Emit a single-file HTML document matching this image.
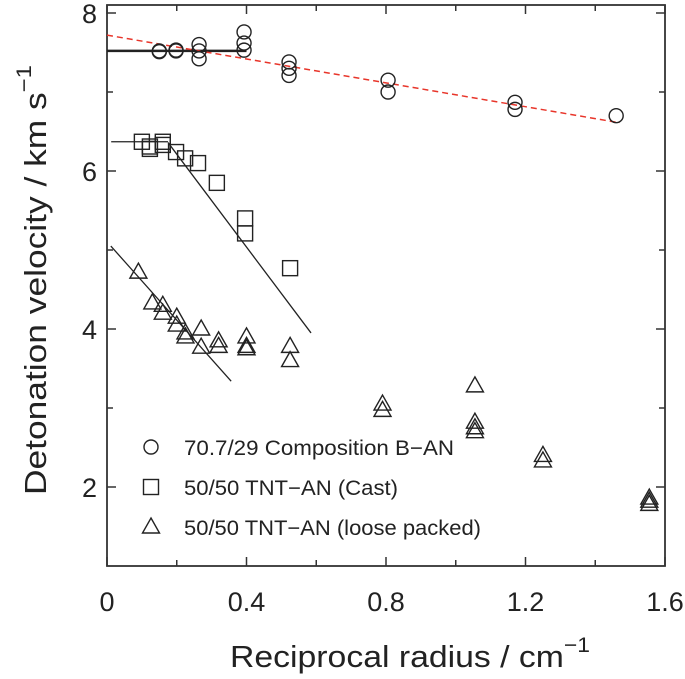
<!DOCTYPE html>
<html><head><meta charset="utf-8"><style>
body{margin:0;background:#fff}
svg text{font-family:"Liberation Sans",sans-serif;fill:#222}
</style></head><body>
<svg width="685" height="674" xmlns="http://www.w3.org/2000/svg">
<g id="marks"></g>
</svg>
<script>
const compBX=[0.15,0.15,0.198,0.198,0.264,0.264,0.264,0.393,0.393,0.393,0.522,0.522,0.522,0.806,0.806,1.17,1.17,1.46];
const compBV=[7.52,7.51,7.53,7.52,7.6,7.52,7.42,7.76,7.62,7.53,7.38,7.3,7.21,7.15,7.0,6.87,6.78,6.7];
const castX=[0.10,0.123,0.123,0.16,0.16,0.198,0.224,0.261,0.315,0.396,0.396,0.525];
const castV=[6.37,6.31,6.28,6.37,6.33,6.24,6.16,6.1,5.85,5.40,5.21,4.77];
const looseX=[0.09,0.13,0.16,0.16,0.2,0.2,0.225,0.225,0.27,0.27,0.32,0.32,0.4,0.4,0.4,0.525,0.525,0.79,0.79,1.055,1.055,1.055,1.055,1.25,1.25,1.555,1.555,1.555];
const looseV=[4.72,4.33,4.30,4.2,4.15,4.05,3.95,3.9,4.0,3.77,3.85,3.78,3.9,3.78,3.75,3.78,3.6,3.05,2.97,3.28,2.82,2.75,2.7,2.4,2.33,1.86,1.82,1.78];
const xTicks=[0,0.4,0.8,1.2,1.6];
const xTickLabels=["0","0.4","0.8","1.2","1.6"];
const yTicks=[2,4,6,8];
const yTickLabels=["2","4","6","8"];
const fitLines=[
 {name:"compb-plateau-line",x:[0,0.4],v:[7.52,7.52],w:2.5,c:"#222",d:""},
 {name:"compb-fit-dashed",x:[0,1.47],v:[7.72,6.61],w:1.5,c:"#e8352a",d:"6,4"},
 {name:"cast-plateau-line",x:[0.012,0.175],v:[6.37,6.37],w:1.3,c:"#222",d:""},
 {name:"cast-slope-line",x:[0.175,0.585],v:[6.36,3.95],w:1.3,c:"#222",d:""},
 {name:"loose-fit-line",x:[0.011,0.356],v:[5.05,3.34],w:1.3,c:"#222",d:""}
];
const L=107,R=665,T=5,B=566;
const sx=r=>L+r*(R-L)/1.6;
const sy=v=>13+(8-v)*79;
const NS="http://www.w3.org/2000/svg";
const svg=document.querySelector("svg");
function mk(tag,attrs,parent){const e=document.createElementNS(NS,tag);for(const k in attrs)e.setAttribute(k,attrs[k]);(parent||svg).appendChild(e);return e;}
let f=mk("rect",{x:L,y:T,width:R-L,height:B-T,fill:"none",stroke:"#333","stroke-width":1.8});


xTicks.forEach((t,i)=>{
 const x=sx(t);
 let tk=mk("path",{d:`M${x},${B}v-9M${x},${T}v9`,stroke:"#333","stroke-width":1.5});
 
 
 if(i<xTicks.length-1){const xm=sx(t+0.2);let m=mk("path",{d:`M${xm},${B}v-6M${xm},${T}v6`,stroke:"#333","stroke-width":1.5});
 
 }
 let lb=mk("text",{x:x,y:611,"font-size":27,"text-anchor":"middle"});lb.textContent=xTickLabels[i];
 
 
});
for(let v=1.5;v<=8;v+=0.5){
 const y=sy(v);const major=Math.abs(v-Math.round(v/2)*2)<1e-6;const len=major?9:(Number.isInteger(v)?6:0);
 if(!len)continue;
 let tk=mk("path",{d:`M${L},${y}h${len}M${R},${y}h-${len}`,stroke:"#333","stroke-width":1.5});
 
 
}
yTicks.forEach((t,i)=>{
 let lb=mk("text",{x:97,y:sy(t)+10,"font-size":27,"text-anchor":"end"});lb.textContent=yTickLabels[i];
 
 
});
fitLines.forEach(l=>{
 let p=mk("line",{x1:sx(l.x[0]),y1:sy(l.v[0]),x2:sx(l.x[1]),y2:sy(l.v[1]),stroke:l.c,"stroke-width":l.w,"stroke-dasharray":l.d});
 
 
});
const st={fill:"none",stroke:"#222","stroke-width":1.4};
function circle(x,y){return mk("circle",Object.assign({cx:x,cy:y,r:7},st));}
function square(x,y){return mk("rect",Object.assign({x:x-7.5,y:y-7.5,width:15,height:15},st));}
function tri(x,y){return mk("path",Object.assign({d:`M${x},${y-9}L${x+8.5},${y+6}L${x-8.5},${y+6}Z`},st));}
compBX.forEach((r,i)=>{let e=circle(sx(r),sy(compBV[i]));
 
 });
castX.forEach((r,i)=>{let e=square(sx(r),sy(castV[i]));
 
 });
looseX.forEach((r,i)=>{let e=tri(sx(r),sy(looseV[i]));
 
 });
const leg=[["70.7/29 Composition B\u2212AN",circle,447,270],["50/50 TNT\u2212AN (Cast)",square,487,214],["50/50 TNT\u2212AN (loose packed)",tri,527,297]];
leg.forEach(([t,fn,y,tl])=>{
 let m=fn(151,y);
 
 
 let tx=mk("text",{x:184,y:y+8,"font-size":21,textLength:tl,lengthAdjust:"spacingAndGlyphs"});tx.textContent=t;
 
 
});
let xt=mk("text",{x:230,y:667,"font-size":31,textLength:360,lengthAdjust:"spacingAndGlyphs"});xt.innerHTML='Reciprocal radius / cm<tspan dy="-15" font-size="21">\u22121</tspan>';


let yt=mk("text",{x:0,y:0,"font-size":31,textLength:430,lengthAdjust:"spacingAndGlyphs",transform:"translate(46,495) rotate(-90)"});yt.innerHTML='Detonation velocity / km s<tspan dy="-15" font-size="21">\u22121</tspan>';


</script>
</body></html>
